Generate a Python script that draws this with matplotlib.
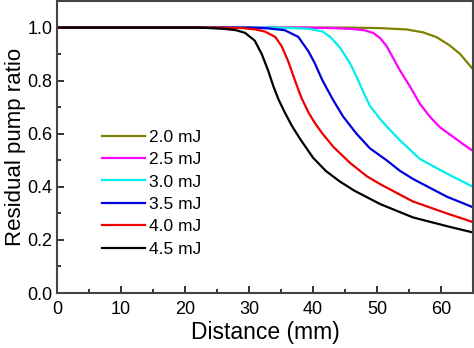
import numpy as np
import matplotlib
matplotlib.use('Agg')
import matplotlib.pyplot as plt

plt.rcParams['font.family'] = ['Liberation Sans', 'DejaVu Sans']

# Valores (distancia en mm, razón residual)
d_20 = [0, 45, 50.5, 54.6, 57.2, 59.3, 61.4, 63, 64.5, 65]
r_20 = [1.0, 1.0, 0.998, 0.993, 0.982, 0.964, 0.932, 0.90, 0.857, 0.843]

d_25 = [0, 38, 43, 46, 48, 49.4, 50.5, 51.5, 52.3, 53.6, 55.2, 56.7, 58.3, 59.8, 61.9, 63.5, 65]
r_25 = [1.0, 1.0, 0.998, 0.995, 0.99, 0.98, 0.96, 0.93, 0.895, 0.838, 0.776, 0.713, 0.663, 0.625, 0.588, 0.56, 0.535]

d_30 = [0, 34, 37, 39.5, 41.5, 42.7, 44.2, 45.8, 46.8, 47.9, 48.9, 50.5, 52, 53.6, 56.7, 60.9, 65]
r_30 = [1.0, 1.0, 0.998, 0.995, 0.985, 0.965, 0.925, 0.865, 0.815, 0.755, 0.705, 0.655, 0.615, 0.575, 0.505, 0.45, 0.40]

d_35 = [0, 30, 33, 35.6, 37.7, 39.3, 40.3, 41.4, 42.4, 43.2, 44.7, 46.8, 48.9, 51.5, 53.6, 55.6, 60.9, 65]
r_35 = [1.0, 1.0, 0.997, 0.99, 0.965, 0.91, 0.865, 0.805, 0.76, 0.725, 0.665, 0.60, 0.545, 0.50, 0.46, 0.43, 0.363, 0.323]

d_40 = [0, 26, 29, 31, 32.5, 34.1, 35.1, 36.1, 37.2, 38.2, 39.3, 40.3, 41.5, 43.2, 45.8, 48.4, 50.5, 55.6, 60.9, 65]
r_40 = [1.0, 1.0, 0.998, 0.993, 0.985, 0.965, 0.93, 0.875, 0.80, 0.735, 0.68, 0.64, 0.60, 0.55, 0.49, 0.44, 0.41, 0.345, 0.30, 0.267]

d_45 = [0, 22, 24, 26.25, 28, 29.4, 30.9, 32, 33, 33.8, 34.6, 35.6, 36.7, 38, 40, 42, 44.2, 46.5, 50.5, 55.6, 60.9, 65]
r_45 = [1.0, 1.0, 0.998, 0.995, 0.99, 0.98, 0.951, 0.90, 0.838, 0.78, 0.73, 0.68, 0.63, 0.58, 0.51, 0.46, 0.42, 0.385, 0.335, 0.285, 0.252, 0.228]

series = [
    (d_20, r_20, '2.0 mJ', '#808000'),
    (d_25, r_25, '2.5 mJ', '#ff00ff'),
    (d_30, r_30, '3.0 mJ', '#00eeee'),
    (d_35, r_35, '3.5 mJ', '#0000dd'),
    (d_40, r_40, '4.0 mJ', '#ee0000'),
    (d_45, r_45, '4.5 mJ', '#000000'),
]

fig = plt.figure(figsize=(4.74, 3.48), dpi=100)
ax = fig.add_axes([0.120, 0.158, 0.878, 0.839])

for d, r, lab, c in series:
    ax.plot(d, r, color=c, lw=1.6, label=lab)

ax.set_xlim(0, 65)
ax.set_ylim(0, 1.1)
ax.set_xticks(np.arange(0, 61, 10))
ax.set_xticks(np.arange(5, 65, 10), minor=True)
ax.set_yticks(np.arange(0, 1.01, 0.2))
ax.set_yticks(np.arange(0.1, 1.1, 0.2), minor=True)
ax.set_yticklabels([f'{v:.1f}' for v in np.arange(0, 1.01, 0.2)])
ax.tick_params(which='both', direction='in', labelsize=13, width=1.3, colors='#222222')
ax.tick_params(which='major', length=5)
ax.tick_params(which='minor', length=3)
ax.tick_params(axis='x', which='major', pad=6)
ax.tick_params(axis='y', which='major', pad=3)
ax.tick_params(axis='both', labelcolor='black')
for s in ax.spines.values():
    s.set_linewidth(1.5)
    s.set_color('#444444')

ax.set_xlabel('Distance (mm)', fontsize=16.5, labelpad=2)
ax.set_ylabel('Residual pump ratio', fontsize=16, labelpad=1)

ax.legend(loc='upper left', bbox_to_anchor=(0.108, 0.56), frameon=False,
          fontsize=12.5, handlelength=2.5, handletextpad=0.2, labelspacing=0.42,
          borderpad=0, borderaxespad=0)

fig.savefig('out.png', dpi=100)
